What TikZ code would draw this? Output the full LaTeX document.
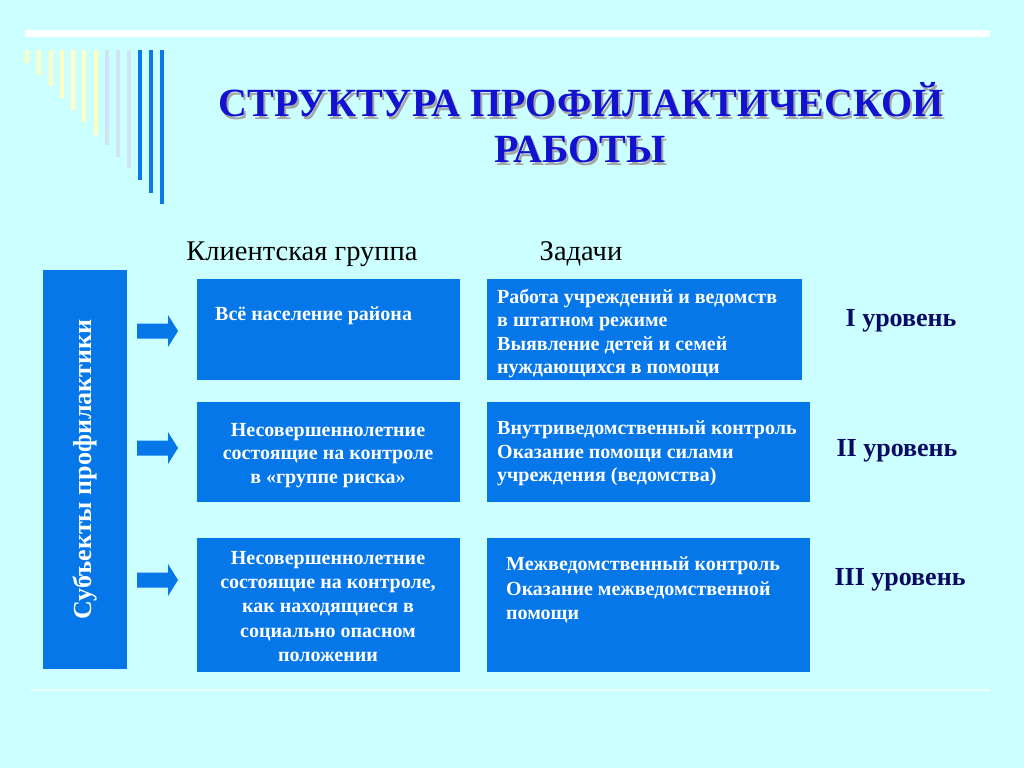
\documentclass[tikz,border=0pt]{standalone}
\usepackage{fontspec}
\setmainfont{Liberation Serif}
\definecolor{bg}{HTML}{CCFFFF}
\definecolor{boxblue}{HTML}{0577E9}
\definecolor{titleblue}{HTML}{1212D0}
\definecolor{navy}{HTML}{0A0A64}
\definecolor{stripey}{HTML}{FFFFC4}
\definecolor{stripeg}{HTML}{D0E4F4}
\definecolor{stripeb}{HTML}{0A78E6}
\newcommand\withshadow[1]{\makebox[0pt][l]{\hspace{2pt}\raisebox{-3pt}{\color{black!35}#1}}#1}
\begin{document}
\begin{tikzpicture}[x=1pt,y=-1pt,
  bluebox/.style={fill=boxblue, draw=none, inner sep=0, anchor=north west},
  wtext/.style={text=white, inner sep=0, font=\fontsize{20}{23.4}\selectfont\bfseries},
  wtextl/.style={text=white, inner sep=0, font=\fontsize{20}{24.3}\selectfont\bfseries},
  titletext/.style={inner sep=0, text=titleblue, font=\fontsize{40}{50}\selectfont\bfseries},
  headtext/.style={inner sep=0, font=\fontsize{28.5}{32}\selectfont, text=black},
  leveltext/.style={inner sep=0, text=navy, font=\fontsize{26}{30}\selectfont\bfseries},
  blockarrow/.style={fill=boxblue}]
\useasboundingbox (0,0) rectangle (1024,768);
\fill[bg] (0,0) rectangle (1024,768);
% decorative lines
\fill[white] (25,30) rectangle (990,37);
\fill[white!60!bg] (30,689) rectangle (990,691);
\foreach \xx/\yb/\cc in {27/63/stripey,39/75/stripey,51/86/stripey,62/98/stripey,73/110/stripey,84/122/stripey,96/135/stripey,107/145/stripeg,118/157/stripeg,129/168/stripeg,140/180/stripeb,151/193/stripeb,162/204/stripeb}
  \fill[\cc] (\xx-2.3,50) rectangle (\xx+2.3,\yb);
% title
\node[titletext] (t1) at (581,101) {\withshadow{СТРУКТУРА ПРОФИЛАКТИЧЕСКОЙ}};
\node[titletext] (t2) at (580,151) {\withshadow{РАБОТЫ}};
% headers
\node[headtext] (h1) at (302,254) {Клиентская группа};
\node[headtext] (h2) at (581,254) {Задачи};
% subjects box
\node[bluebox, minimum width=84, minimum height=399] (s) at (43,270) {};
\node[wtext, rotate=90, font=\fontsize{26}{30}\selectfont\bfseries] (st) at (s.center) {Субъекты профилактики};
% client boxes
\node[bluebox, minimum width=263, minimum height=101] (c1) at (197,279) {};
\node[bluebox, minimum width=263, minimum height=100] (c2) at (197,402) {};
\node[bluebox, minimum width=263, minimum height=134] (c3) at (197,538) {};
% task boxes
\node[bluebox, minimum width=315, minimum height=101] (k1) at (487,279) {};
\node[bluebox, minimum width=323, minimum height=100] (k2) at (487,402) {};
\node[bluebox, minimum width=323, minimum height=134] (k3) at (487,538) {};
% texts in client boxes
\node[wtext, anchor=west, align=left] (c1t) at (215,316) {Всё население района};
\node[wtext, anchor=north, align=center] (c2t) at (328,423) {Несовершеннолетние\\состоящие на контроле\\в «группе риска»};
\node[wtextl, anchor=north, align=center] (c3t) at (328,551) {Несовершеннолетние\\состоящие на контроле,\\как находящиеся в\\социально опасном\\положении};
% texts in task boxes
\node[wtext, anchor=north west, align=left] (k1t) at (497,289) {Работа учреждений и ведомств\\в штатном режиме\\Выявление детей и семей\\нуждающихся в помощи};
\node[wtext, anchor=north west, align=left] (k2t) at (497,421) {Внутриведомственный контроль\\Оказание помощи силами\\учреждения (ведомства)};
\node[wtextl, anchor=north west, align=left] (k3t) at (506,557) {Межведомственный контроль\\Оказание межведомственной\\помощи};
% levels
\node[leveltext] (l1) at (901,321) {I уровень};
\node[leveltext] (l2) at (897,451) {II уровень};
\node[leveltext] (l3) at (900,580) {III уровень};
% block arrows
\coordinate (a1) at (137,331);
\coordinate (a2) at (137,448);
\coordinate (a3) at (137,580);
\foreach \a in {a1,a2,a3}
  \fill[blockarrow] (\a) ++(0,-7.5) -- ++(31,0) -- ++(0,-8.5) -- ++(10,16) -- ++(-10,16) -- ++(0,-8.5) -- ++(-31,0) -- cycle;
\end{tikzpicture}
\end{document}
